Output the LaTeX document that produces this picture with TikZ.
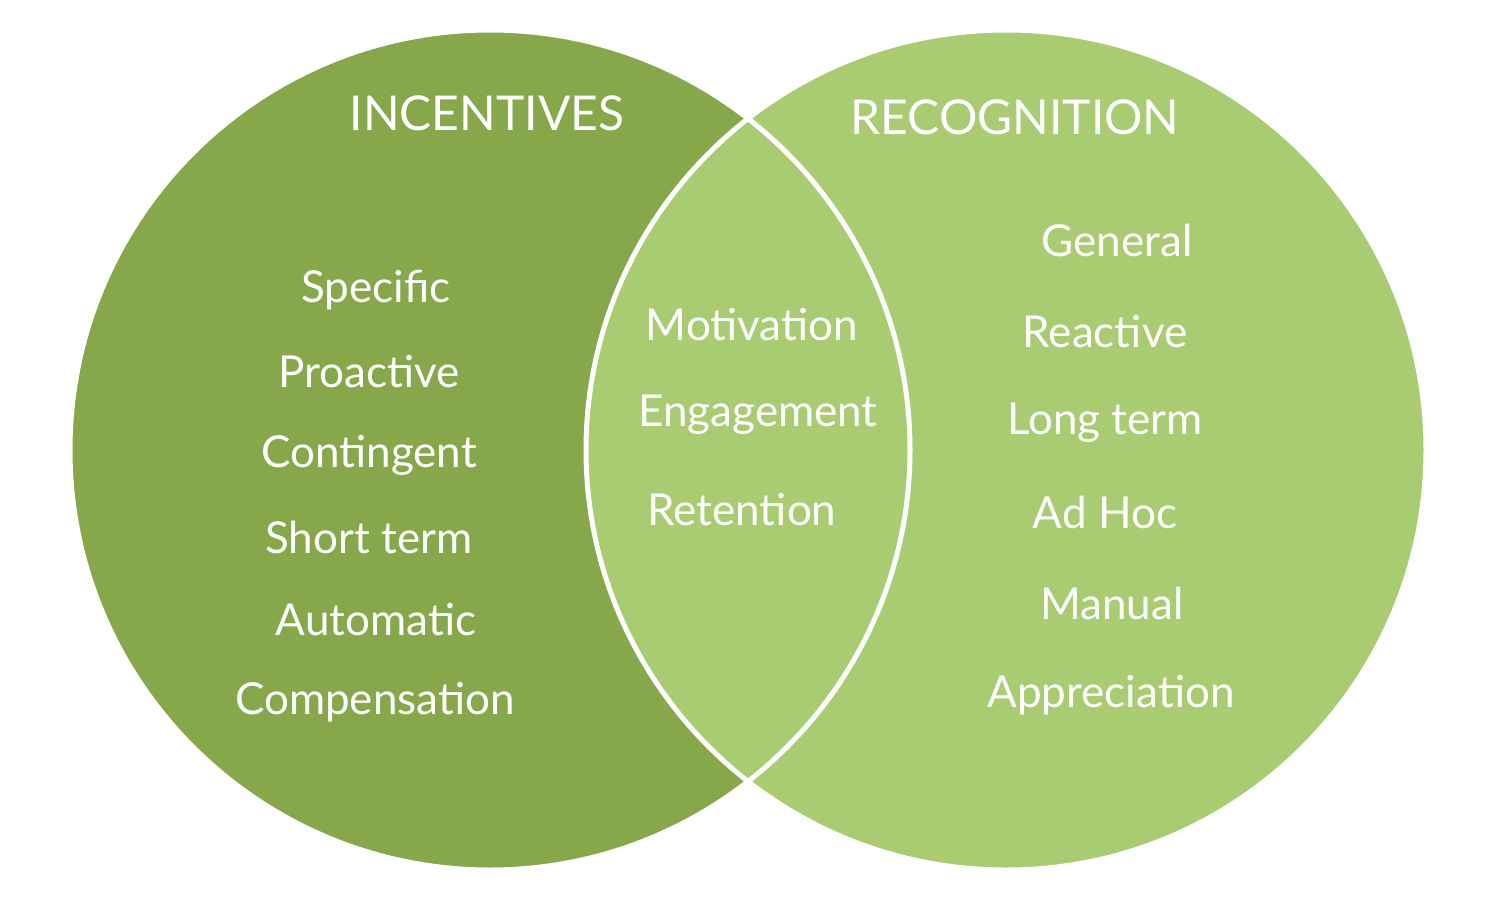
\documentclass[tikz,border=0pt]{standalone}
\usepackage{fontspec}
\setmainfont{Lato}
\definecolor{dkg}{HTML}{86A84B}
\definecolor{ltg}{HTML}{A9CB72}
\begin{document}
\begin{tikzpicture}[x=1pt,y=-1pt,
  lbl/.style={text=white,font=\fontsize{44}{48}\selectfont,inner sep=0pt,anchor=center},
  ttl/.style={lbl,font=\fontsize{48}{52}\selectfont}]
\useasboundingbox (0,0) rectangle (1500,908);
\fill[dkg] (490,450) circle (420);
\fill[ltg] (1006,450) circle (420);
\draw[white,line width=5pt] (1006,450) circle (420);
\draw[white,line width=5pt] (490,450) circle (420);
\node[ttl] (t1) at (487,113) {INCENTIVES};
\node[ttl] (t2) at (1015,117) {RECOGNITION};
\node[lbl] (a1) at (376,290) {Specific};
\node[lbl] (a2) at (369,372) {Proactive};
\node[lbl] (a3) at (369,455) {Contingent};
\node[lbl] (a4) at (369,537) {Short term};
\node[lbl] (a5) at (376,620) {Automatic};
\node[lbl] (a6) at (375,702) {Compensation};
\node[lbl] (m1) at (752,325) {Motivation};
\node[lbl] (m2) at (758,415) {Engagement};
\node[lbl] (m3) at (742,510) {Retention};
\node[lbl] (b1) at (1117,240) {General};
\node[lbl] (b2) at (1105,332) {Reactive};
\node[lbl] (b3) at (1105,423) {Long term};
\node[lbl] (b4) at (1105,512) {Ad Hoc};
\node[lbl] (b5) at (1112,603) {Manual};
\node[lbl] (b6) at (1111,695) {Appreciation};
\end{tikzpicture}
\end{document}
